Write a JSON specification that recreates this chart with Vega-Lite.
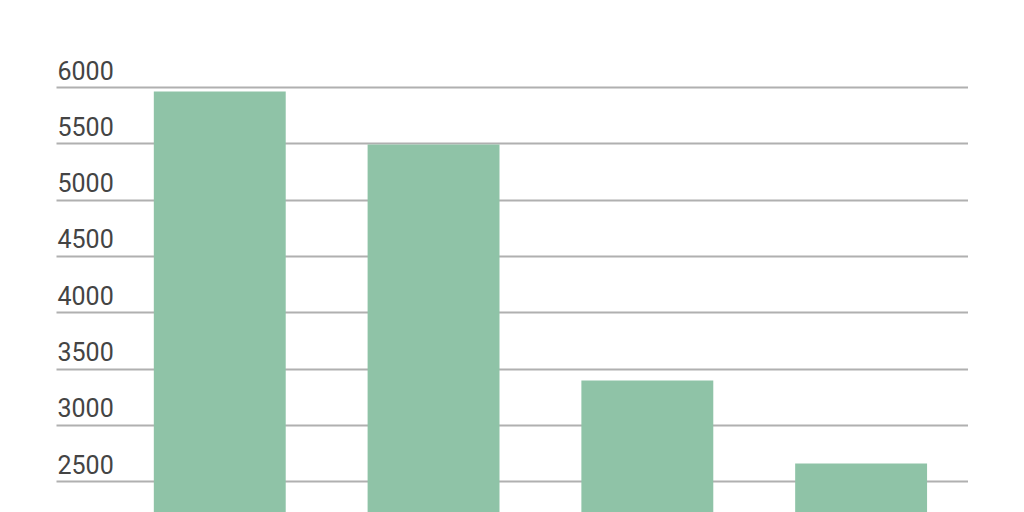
{
  "$schema": "https://vega.github.io/schema/vega-lite/v6.json",
  "autosize": {"type": "none"},
  "padding": {"left": 56, "top": 87, "right": 0, "bottom": 0},
  "width": 912,
  "height": 425,
  "background": "white",
  "config": {"view": {"stroke": null}},
  "data": {
    "values": [
      {"category": "A", "value": 5960},
      {"category": "B", "value": 5490},
      {"category": "C", "value": 3393},
      {"category": "D", "value": 2657}
    ]
  },
  "mark": {"type": "bar", "color": "#8fc3a7", "clip": true},
  "encoding": {
    "x": {
      "field": "category",
      "type": "nominal",
      "sort": null,
      "scale": {"paddingInner": 0.383, "paddingOuter": 0.3245, "align": 0.705},
      "axis": null
    },
    "y": {
      "field": "value",
      "type": "quantitative",
      "scale": {"domain": [2226, 6000], "nice": false, "zero": false},
      "axis": {
        "title": null,
        "format": "d",
        "values": [2500, 3000, 3500, 4000, 4500, 5000, 5500, 6000],
        "domain": false,
        "ticks": false,
        "grid": true,
        "gridColor": "#b0b0b0",
        "gridWidth": 2,
        "labelAlign": "left",
        "labelBaseline": "alphabetic",
        "labelPadding": -1,
        "labelOffset": -8,
        "labelFont": "Roboto",
        "labelFontSize": 25,
        "labelColor": "#444444"
      }
    }
  }
}
